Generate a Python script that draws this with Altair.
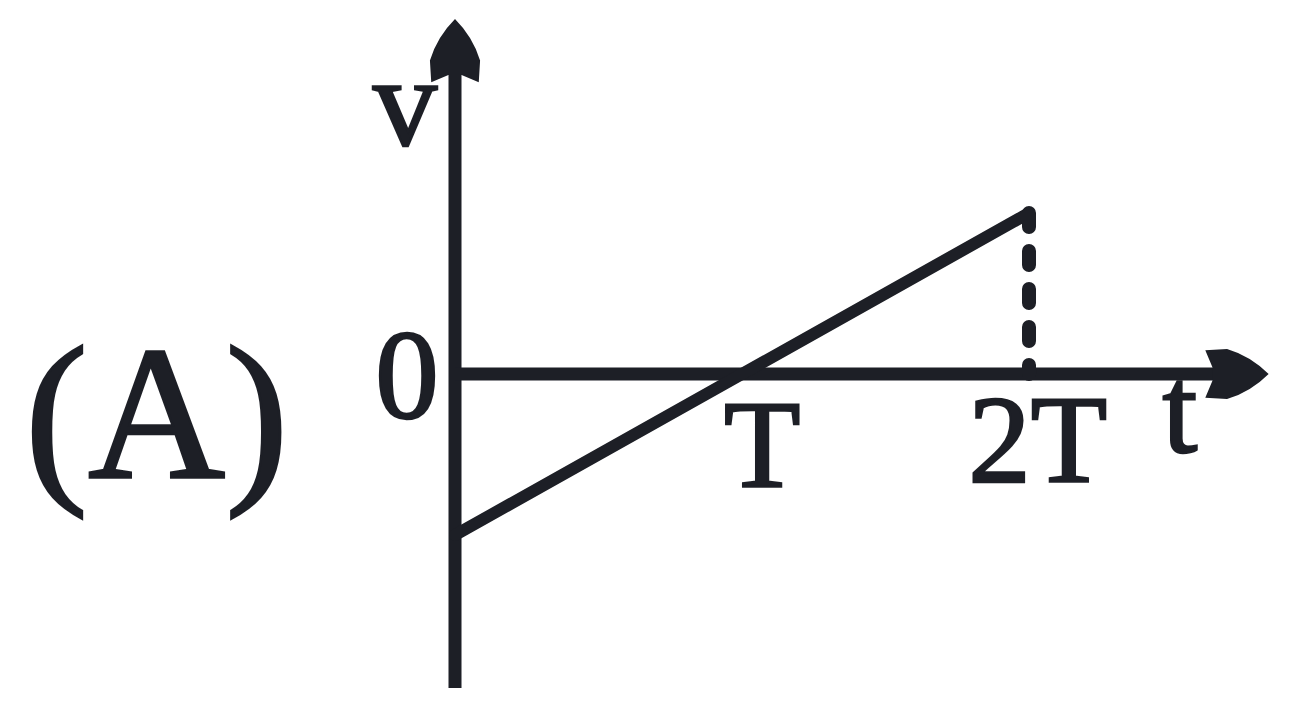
import altair as alt
import pandas as pd

INK = "#1d1f26"
FONT = "'Liberation Serif', 'Times New Roman', Times, serif"

# graph line: v(t) from t=0 to t=2T
t_line = [0, 2]
v_line = [-1, 1]

# dashed drop line at t = 2T
drop_t = [2]
drop_v_top = [1]
drop_v_bot = [0]

# tick labels along t axis (label anchor positions)
tick_t = [1.07, 2.03]
tick_labels = ["T", "2T"]
tick_v = [-0.70, -0.67]

# axes extents (in units of T and v)
yaxis_v = [-1.95, 1.95]
xaxis_t = [0, 2.65]

# arrowheads
arrow_t = [0, 2.72]
arrow_v = [2.0, 0]
arrow_angle = [0, 90]

# other labels
lab_text = ["(A)", "v", "0", "t"]
lab_t = [-1.04, -0.174, -0.167, 2.526]
lab_v = [-0.646, 1.422, -0.273, -0.484]
lab_size = [190, 128, 127, 125]

xs = alt.Scale(domain=[-1.5575, 2.885], nice=False, zero=False)
ys = alt.Scale(domain=[-2.012, 2.273], nice=False, zero=False)

X = lambda f: alt.X(f, type="quantitative", scale=xs, axis=None)
Y = lambda f: alt.Y(f, type="quantitative", scale=ys, axis=None)

yaxis = alt.Chart(pd.DataFrame({"t": [0], "v1": [yaxis_v[0]], "v2": [yaxis_v[1]]})).mark_rule(
    color=INK, strokeWidth=13
).encode(x=X("t"), y=Y("v1"), y2="v2")

xaxis = alt.Chart(pd.DataFrame({"t1": [xaxis_t[0]], "t2": [xaxis_t[1]], "v": [0]})).mark_rule(
    color=INK, strokeWidth=13
).encode(x=X("t1"), x2="t2", y=Y("v"))

graph = alt.Chart(pd.DataFrame({"t": t_line, "v": v_line})).mark_line(
    color=INK, strokeWidth=12, strokeCap="round"
).encode(x=X("t"), y=Y("v"))

drop = alt.Chart(pd.DataFrame({"t": drop_t, "v1": drop_v_top, "v2": drop_v_bot})).mark_rule(
    color=INK, strokeWidth=14, strokeDash=[14, 24], strokeCap="round"
).encode(x=X("t"), y=Y("v1"), y2="v2")

arrow_path = ("M0,-1 Q0.55,-0.45 0.76,0.26 L0.72,0.92 L0.2,0.7 L-0.2,0.7 "
              "L-0.72,0.92 L-0.76,0.26 Q-0.55,-0.45 0,-1 Z")
arrows = alt.Chart(pd.DataFrame({"t": arrow_t, "v": arrow_v, "a": arrow_angle})).mark_point(
    shape=arrow_path, filled=True, color=INK, opacity=1, size=4356, strokeWidth=0
).encode(x=X("t"), y=Y("v"), angle=alt.Angle("a:Q", scale=None))

ticks = alt.Chart(pd.DataFrame({"t": tick_t, "lab": tick_labels, "v": tick_v})).mark_text(
    font=FONT, fontSize=125, color=INK, baseline="alphabetic", align="center",
    stroke=INK, strokeWidth=2.5
).encode(x=X("t"), y=Y("v"), text="lab:N")

labels = alt.Chart(pd.DataFrame({"t": lab_t, "v": lab_v, "lab": lab_text, "s": lab_size})).mark_text(
    font=FONT, color=INK, baseline="alphabetic", align="center",
    stroke=INK, strokeWidth=2.5
).encode(x=X("t"), y=Y("v"), text="lab:N", size=alt.Size("s:Q", scale=None))

chart = alt.layer(yaxis, xaxis, graph, drop, arrows, ticks, labels).properties(
    width=1275, height=690,
    autosize=alt.AutoSizeParams(type="none"),
    padding=0,
    background="white",
).configure_view(stroke=None)

chart.save("out.html", embed_options={"renderer": "svg", "actions": False})
